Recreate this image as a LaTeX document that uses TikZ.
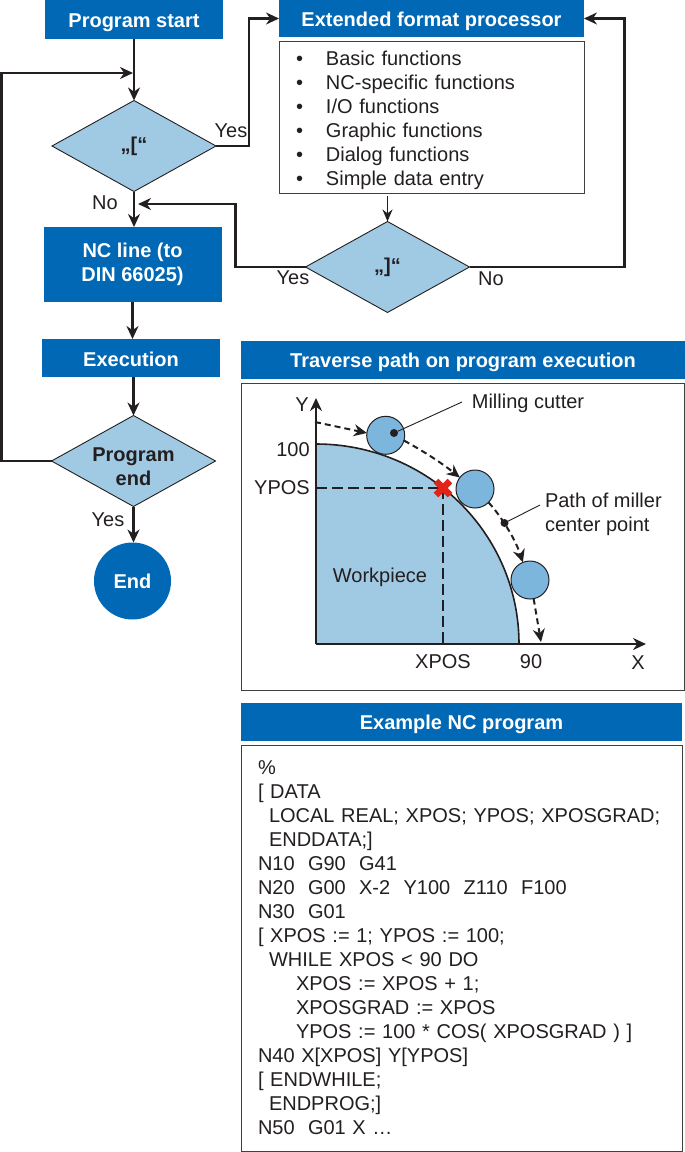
\documentclass[tikz,border=0pt]{standalone}
\usepackage{xcolor}
\usepackage{fontspec}
\setmainfont{Liberation Sans}
\usetikzlibrary{arrows.meta,positioning,calc,shapes.geometric}
\definecolor{vblue}{HTML}{0068B4}
\definecolor{vsky}{HTML}{A0C9E3}
\definecolor{vcut}{HTML}{7DB6DC}
\definecolor{vred}{HTML}{E2231A}
\definecolor{vink}{HTML}{231F20}
\definecolor{vgrey}{HTML}{404040}
\newcommand{\bodyfont}{\fontsize{20}{24}\selectfont}
\tikzset{
  head/.style={fill=vblue,text=white,outer sep=0pt,inner sep=0pt,align=center,font=\bodyfont\bfseries,execute at begin node={\rule[-4pt]{0pt}{24pt}}},
  panel/.style={draw=vgrey,fill=white,line width=1pt,outer sep=0pt,inner xsep=17pt,inner ysep=0pt,align=left,font=\bodyfont,text=vink},
  decide/.style={diamond,draw=vink,fill=vsky,line width=0.9pt,outer sep=0pt,shape aspect=1.8,inner sep=-12pt,align=center,font=\bodyfont\bfseries,text=vink,minimum width=164pt,minimum height=91pt},
  endnode/.style={circle,fill=vblue,text=white,minimum size=77pt,inner sep=0pt,outer sep=0pt,font=\bodyfont\bfseries},
  cutter/.style={circle,draw=vink,fill=vcut,line width=1pt,minimum size=38pt,inner sep=0pt,outer sep=0pt},
  spot/.style={circle,fill=vink,minimum size=8pt,inner sep=0pt,outer sep=0pt},
  arr/.style={-{Stealth[length=13pt,width=12pt]},line width=2.2pt,draw=vink},
  thinarr/.style={-{Stealth[length=12pt,width=10pt]},line width=1.5pt,draw=vink},
  patharr/.style={-{Stealth[length=13pt,width=12pt]},line width=2pt,draw=vink,dash pattern=on 6pt off 4pt},
  guide/.style={line width=1.5pt,draw=vink,dash pattern=on 11pt off 5pt},
  leader/.style={line width=0.9pt,draw=vink},
  lbl/.style={font=\bodyfont,text=vink,inner sep=0pt,outer sep=0pt,align=left},
}

\begin{document}
\begin{tikzpicture}[x=1pt,y=-1pt]
\useasboundingbox (0,0) rectangle (685,1152);
\node[head,minimum width=178pt,minimum height=38.5pt] (start) at (134,19.25) {Program start};
\node[head,minimum width=305pt,minimum height=37pt] (extproc) at (431.5,18.5) {Extended format processor};
\node[panel,text width=271pt,minimum height=152pt] (funcs) at (431.5,117) {%
  \rule{0pt}{21pt}\makebox[30pt][l]{\textbullet}Basic functions\\
  \makebox[30pt][l]{\textbullet}NC-specific functions\\
  \makebox[30pt][l]{\textbullet}I/O functions\\
  \makebox[30pt][l]{\textbullet}Graphic functions\\
  \makebox[30pt][l]{\textbullet}Dialog functions\\
  \makebox[30pt][l]{\textbullet}Simple data entry};
\node[decide] (open) at (134,146) {„[“};
\node[decide] (close) at (387.5,267) {„]“};
\node[head,minimum width=178pt,minimum height=75pt] (ncline) at (132.5,264.5) {NC line (to\\DIN 66025)};
\node[head,minimum width=178pt,minimum height=38pt] (exec) at (131,358) {Execution};
\node[decide] (progend) at (133.5,461) {\rule{0pt}{26pt}Program\\end};
\node[endnode] (finish) at (132.5,581) {End};

\coordinate (joinin) at (133,73);
\coordinate (joinout) at (138,204);
\draw[arr] (start) -- (open);
\draw[arr] (open) -- (open |- ncline.north);
\draw[arr] (ncline) -- (ncline |- exec.north);
\draw[arr] (progend |- exec.south) -- (progend);
\draw[arr] (progend) -- (progend |- finish.north);
\draw[arr] (open.east) -- ++(33,0) |- (extproc.west);
\draw[arr] (close.east) -- ++(155,0) |- (extproc.east);
\draw[arr] (close.west) -- ++(-70,0) |- (joinout);
\draw[arr] (progend.west) -- ++(-50,0) |- (joinin);
\draw[thinarr,shorten <=3pt] (funcs.south -| close.north) -- (close.north);

\node[lbl] (yesa) at (231,131) {Yes};
\node[lbl] (noa) at (105,203) {No};
\node[lbl] (yesb) at (293,278) {Yes};
\node[lbl] (nob) at (491,279) {No};
\node[lbl] (yesc) at (108,520) {Yes};

\node[head,minimum width=444pt,minimum height=38pt] (pathhead) at (463,360) {Traverse path on program execution};
\node[panel,minimum width=443pt,minimum height=307.5pt] (pathbox) at (462.75,537) {};
\node[head,minimum width=441pt,minimum height=38pt] (proghead) at (461.5,722) {Example NC program};
\node[panel,text width=407pt,minimum height=406pt] (progbox) at (461.5,948) {%
  \%\\
  {[} DATA\\
  \hspace*{11pt}LOCAL REAL; XPOS; YPOS; XPOSGRAD;\\
  \hspace*{11pt}ENDDATA;]\\
  N10\ \ G90\ \ G41\\
  N20\ \ G00\ \ X-2\ \ Y100\ \ Z110\ \ F100\\
  N30\ \ G01\\
  {[} XPOS := 1; YPOS := 100;\\
  \hspace*{11pt}WHILE XPOS < 90 DO\\
  \hspace*{38pt}XPOS := XPOS + 1;\\
  \hspace*{38pt}XPOSGRAD := XPOS\\
  \hspace*{38pt}YPOS := 100 * COS( XPOSGRAD ) ]\\
  N40 X[XPOS] Y[YPOS]\\
  {[} ENDWHILE;\\
  \hspace*{11pt}ENDPROG;]\\
  N50\ \ G01 X …};

\coordinate (origin) at (316,644);
\coordinate (yaxis) at (316,398);
\coordinate (xaxis) at (646,644);
\fill[vsky] (origin) -- (316,444) .. controls (428,444) and (519,533.5) .. (519,644) -- cycle;
\draw[line width=1.6pt,draw=vink] (316,444) .. controls (428,444) and (519,533.5) .. (519,644);
\coordinate (hit) at (443,488);
\draw[guide] (316,488) -- (hit);
\draw[guide] (hit) -- (443,644);
\draw[arr] (origin) -- (yaxis);
\draw[arr] (origin) -- (xaxis);
\draw[vred,line width=6.5pt] (436,481) -- (450,495);
\draw[vred,line width=6.5pt] (450,481) -- (436,495);

\node[cutter] (cuta) at (385.7,435.3) {};
\node[cutter] (cutb) at (475,489) {};
\node[cutter] (cutc) at (530,580) {};
\node[spot] (spota) at (394,433) {};
\node[spot] (spotb) at (504.5,523) {};
\coordinate (enter) at (315,422);
\coordinate (leave) at (541,642);
\coordinate (milltip) at (462,402);
\coordinate (pathtip) at (540,505);
\draw[patharr] (enter) -- (cuta.173);
\draw[patharr] (cuta.-16) .. controls (425,452) and (443,464) .. (cutb.143);
\draw[patharr] (cutb.-45) .. controls (496,510) and (514,535) .. (cutc.112);
\draw[patharr] (cutc.-79) -- (leave);
\draw[leader] (spota) -- (milltip);
\draw[leader] (spotb) -- (pathtip);

\node[lbl] (ylab) at (302,405) {Y};
\node[lbl] (xlab) at (638,663) {X};
\node[lbl] (hundred) at (293,450) {100};
\node[lbl] (yposlab) at (282,488) {YPOS};
\node[lbl] (xposlab) at (443,662) {XPOS};
\node[lbl] (ninety) at (531,662) {90};
\node[lbl] (work) at (380,577) {Workpiece};
\node[lbl] (mill) at (528,403) {Milling cutter};
\node[lbl,anchor=west] (pathlab) at (545,514) {Path of miller\\center point};
\end{tikzpicture}
\end{document}
